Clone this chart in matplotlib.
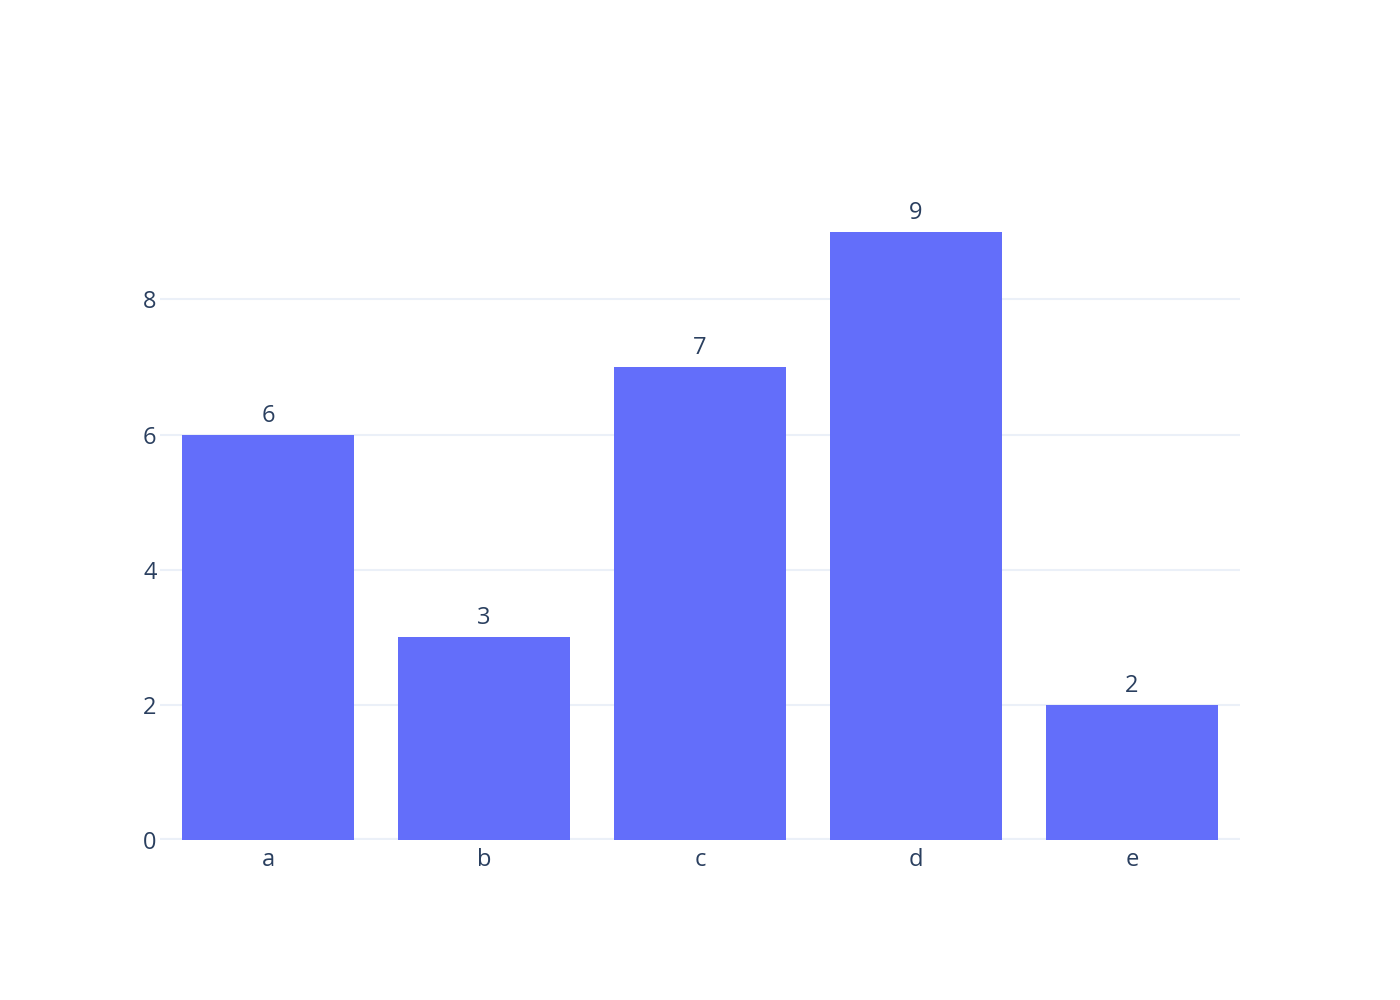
import matplotlib
matplotlib.use("Agg")
import matplotlib.pyplot as plt

categories = ["a", "b", "c", "d", "e"]
values = [6, 3, 7, 9, 2]
y_ticks = [0, 2, 4, 6, 8]

plt.rcParams['font.family'] = ['Open Sans', 'DejaVu Sans']
text_color = "#2a3f5f"
grid_color = "#ebf0f8"
bar_color = "#636efa"

fig = plt.figure(figsize=(14, 10), dpi=100)
ax = fig.add_axes([160/1400, 160/1000, 1080/1400, 640/1000])
x = list(range(len(categories)))
ax.bar(x, values, width=0.8, color=bar_color, zorder=3)
for xi, v in zip(x, values):
    ax.annotate(str(v), (xi, v), xytext=(0, 5), textcoords="offset points",
                ha="center", va="bottom", fontsize=17, color=text_color, zorder=4)

ax.set_xlim(-0.5, 4.5)
ax.set_ylim(0, 9.47)
ax.set_xticks(x)
ax.set_xticklabels(categories)
ax.set_yticks(y_ticks)
ax.tick_params(axis="both", length=0, labelsize=17, labelcolor=text_color)
ax.tick_params(axis="x", pad=6)
ax.tick_params(axis="y", pad=2.5)
for s in ax.spines.values():
    s.set_visible(False)
ax.yaxis.grid(True, color=grid_color, linewidth=1.5, zorder=0)
ax.axhline(0, color=grid_color, linewidth=3, zorder=2)
ax.set_axisbelow(True)

fig.savefig("out.png", dpi=100, facecolor="white")
